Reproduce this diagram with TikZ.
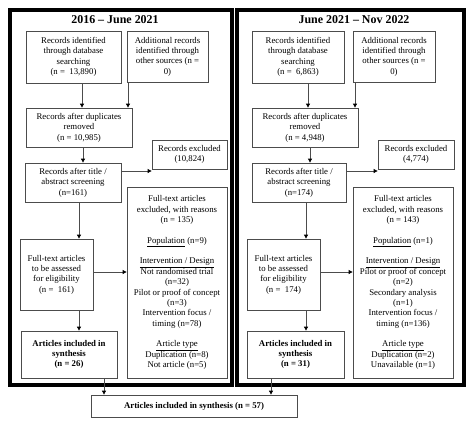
\documentclass[tikz,border=0pt]{standalone}
\usepackage{fontspec}
\setmainfont{Liberation Serif}
\usetikzlibrary{arrows.meta}
\begin{document}
\begin{tikzpicture}[x=1bp,y=-1bp,
  box/.style={draw=black!70, line width=0.8bp, align=center, inner sep=1bp, font=\fontsize{8.8}{10.4}\selectfont},
  bbox/.style={box, font=\fontsize{8.8}{10.4}\selectfont\bfseries},
  panel/.style={draw=black, line width=4bp, inner sep=0pt},
  ttl/.style={inner sep=0pt, font=\fontsize{12}{14}\selectfont\bfseries},
  arr/.style={draw=black!70, line width=0.8bp, -{Triangle[length=4bp,width=4bp,color=black]}}
]
\useasboundingbox (0,0) rectangle (474,427);
\fill[white] (0,0) rectangle (474,427);

% panels
\node[panel, minimum width=222bp, minimum height=375bp] (PL) at (121,197.5) {};
\node[panel, minimum width=227.5bp, minimum height=375bp] (PR) at (350.25,197.5) {};
\node[ttl] (TL) at (115,20) {2016 -- June 2021};
\node[ttl] (TR) at (354,20) {June 2021 -- Nov 2022};

% left panel
\node[box, minimum width=95bp, minimum height=52bp] (A) at (73.5,57) {Records identified\\through database\\searching\\(n =\ \ 13,890)};
\node[box, minimum width=81bp, minimum height=51bp] (B) at (167.5,56.5) {Additional records\\identified through\\other sources (n =\\0)};
\node[box, minimum width=106bp, minimum height=39bp] (C) at (79,127.5) {Records after duplicates\\removed\\(n = 10,985)};
\node[box, minimum width=96bp, minimum height=39bp] (D) at (73,182.5) {Records after title /\\abstract screening\\(n=161)};
\node[box, minimum width=75bp, minimum height=29bp] (E) at (189.5,154.5) {Records excluded\\(10,824)};
\node[box, minimum width=100bp, minimum height=191bp] (F) at (177,282.5) {Full-text articles\\excluded, with reasons\\(n = 135)\\[10.4bp]\underline{Population} (n=9)\\[10.4bp]\underline{Intervention / Design}\\Not randomised trial\\(n=32)\\Pilot or proof of concept\\(n=3)\\Intervention focus /\\timing (n=78)\\[10.4bp]\underline{Article type}\\Duplication (n=8)\\Not article (n=5)};
\node[box, minimum width=73bp, minimum height=71bp] (G) at (56.5,274.5) {Full-text articles\\to be assessed\\for eligibility\\(n =\ \ 161)};
\node[bbox, minimum width=96bp, minimum height=47bp] (H) at (69,354.5) {Articles included in\\synthesis\\(n = 26)};

% right panel
\node[box, minimum width=92bp, minimum height=52bp] (A2) at (298,57) {Records identified\\through database\\searching\\(n =\ \ 6,863)};
\node[box, minimum width=82bp, minimum height=51bp] (B2) at (394,56.5) {Additional records\\identified through\\other sources (n =\\0)};
\node[box, minimum width=106bp, minimum height=39bp] (C2) at (305,127.5) {Records after duplicates\\removed\\(n = 4,948)};
\node[box, minimum width=94bp, minimum height=39bp] (D2) at (299,182.5) {Records after title /\\abstract screening\\(n=174)};
\node[box, minimum width=76bp, minimum height=29bp] (E2) at (416,154.5) {Records excluded\\(4,774)};
\node[box, minimum width=100bp, minimum height=191bp] (F2) at (403,282.5) {Full-text articles\\excluded, with reasons\\(n = 143)\\[10.4bp]\underline{Population} (n=1)\\[10.4bp]\underline{Intervention / Design}\\Pilot or proof of concept\\(n=2)\\Secondary analysis\\(n=1)\\Intervention focus /\\timing (n=136)\\[10.4bp]\underline{Article type}\\Duplication (n=2)\\Unavailable (n=1)};
\node[box, minimum width=73bp, minimum height=71bp] (G2) at (283.5,274.5) {Full-text articles\\to be assessed\\for eligibility\\(n =\ \ 174)};
\node[bbox, minimum width=97bp, minimum height=47bp] (H2) at (295.5,354.5) {Articles included in\\synthesis\\(n = 31)};

% total
\node[bbox, minimum width=206bp, minimum height=22bp] (T) at (194,406) {Articles included in synthesis (n = 57)};

% left arrows
\draw[arr] (A.south -| 82,0) -- (C.north -| 82,0);
\draw[arr] (B.south -| 128,0) -- (C.north -| 128,0);
\draw[arr] (C.south -| 83,0) -- (D.north -| 83,0);
\draw[arr] (D.east |- 0,171) -- (E.west |- 0,171);
\draw[arr] (D.south -| 79,0) -- (G.north -| 79,0);
\draw[arr] (G.east |- 0,272) -- (F.west |- 0,272);
\draw[arr] (G.south -| 79,0) -- (H.north -| 79,0);
\draw[arr] (H.south -| 104,0) -- (T.north -| 104,0);

% right arrows
\draw[arr] (A2.south -| 308,0) -- (C2.north -| 308,0);
\draw[arr] (B2.south -| 355,0) -- (C2.north -| 355,0);
\draw[arr] (C2.south -| 310,0) -- (D2.north -| 310,0);
\draw[arr] (D2.east |- 0,171) -- (E2.west |- 0,171);
\draw[arr] (D2.south -| 306,0) -- (G2.north -| 306,0);
\draw[arr] (G2.east |- 0,272) -- (F2.west |- 0,272);
\draw[arr] (G2.south -| 306,0) -- (H2.north -| 306,0);
\draw[arr] (H2.south -| 271,0) -- (T.north -| 271,0);
\end{tikzpicture}
\end{document}
